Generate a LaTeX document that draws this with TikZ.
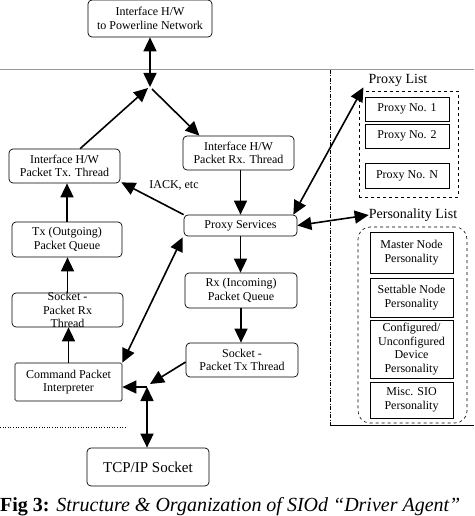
\documentclass[tikz,border=0pt]{standalone}
\usepackage{fontspec}
\setmainfont{Liberation Serif}
\usetikzlibrary{arrows.meta,calc}
\begin{document}
\begin{tikzpicture}[x=1pt,y=-1pt,
 box/.style={draw, rounded corners=4pt, line width=0.7pt, align=center, inner sep=0pt,
   font=\fontsize{12}{13.5}\selectfont},
 sq/.style={draw, line width=0.7pt, align=center, inner sep=0pt,
   font=\fontsize{12}{13.5}\selectfont},
 lbl/.style={inner sep=0pt, align=center, font=\fontsize{12}{13.5}\selectfont},
 arr/.style={line width=1.6pt, -{Triangle[length=14pt,width=13pt]}},
 darr/.style={line width=1.6pt, {Triangle[length=14pt,width=13pt]}-{Triangle[length=14pt,width=13pt]}},
]
\useasboundingbox (0,0) rectangle (474,516);

% separator lines
\draw[gray!80, line width=1pt] (0,70) -- (474,70);
\draw[line width=0.6pt, dash pattern=on 4pt off 1.5pt on 1pt off 1.5pt] (330,70) -- (330,425);
\draw[line width=0.8pt] (330,425) -- (474,425);
\draw[line width=0.6pt, dotted] (0,427) -- (125,427);

% left / middle nodes
\node[box, minimum width=124pt, minimum height=37pt] (top) at (150,18.5) {Interface H/W\\to Powerline Network};
\node[box, minimum width=111pt, minimum height=34pt] (tx) at (64.5,166) {Interface H/W\\Packet Tx. Thread};
\node[box, minimum width=111pt, minimum height=34pt] (rx) at (238.5,153) {Interface H/W\\Packet Rx. Thread};
\node[box, minimum width=113pt, minimum height=21pt] (proxy) at (240.5,225.5) {Proxy Services};
\node[box, minimum width=110pt, minimum height=35pt] (txq) at (67,239.5) {Tx (Outgoing)\\Packet Queue};
\node[box, minimum width=111pt, minimum height=34pt, inner ysep=-3pt] (srx) at (67.5,310) {Socket -\\Packet Rx\\Thread};
\node[sq, rounded corners=1.5pt, minimum width=107pt, minimum height=38pt] (cmd) at (68.5,382) {Command Packet\\Interpreter};
\node[box, minimum width=112pt, minimum height=35pt] (rxq) at (241,290.5) {Rx (Incoming)\\Packet Queue};
\node[box, minimum width=112pt, minimum height=34pt] (stx) at (242,360) {Socket -\\Packet Tx Thread};
\node[box, minimum width=122pt, minimum height=38pt, font=\fontsize{15}{17}\selectfont] (tcp) at (148,467) {TCP/IP Socket};
\node[lbl] (iack) at (174,185) {IACK, etc};

% right panel
\node[lbl, font=\fontsize{14}{16}\selectfont] (plist) at (398,80) {Proxy List};
\node[draw, dashed, line width=0.8pt, minimum width=99pt, minimum height=106pt, inner sep=0pt] (pbox) at (408.5,144) {};
\node[sq, minimum width=84pt, minimum height=24pt] (p1) at (407,109) {Proxy No. 1};
\node[sq, minimum width=84pt, minimum height=24pt] (p2) at (407,136) {Proxy No. 2};
\node[sq, minimum width=84pt, minimum height=25pt] (pn) at (407,175.5) {Proxy No. N};

\node[lbl, font=\fontsize{14}{16}\selectfont] (perslist) at (413,215) {Personality List};
\node[draw, dashed, rounded corners=12pt, line width=0.6pt, minimum width=109pt, minimum height=196pt, inner sep=0pt] (perbox) at (412.5,325) {};
\node[sq, minimum width=83pt, minimum height=41pt] (m1) at (411.5,252.5) {Master Node\\Personality};
\node[sq, minimum width=83pt, minimum height=39pt] (m2) at (411.5,297.5) {Settable Node\\Personality};
\node[sq, minimum width=83pt, minimum height=58pt] (m3) at (411.5,349) {Configured/\\Unconfigured\\Device\\Personality};
\node[sq, minimum width=83pt, minimum height=36pt] (m4) at (411.5,400) {Misc. SIO\\Personality};

% junctions
\coordinate (J1) at (150,87);
\coordinate (J2) at (147,387);

% connectors
\draw[darr] (top.south) -- (J1);
\draw[arr] ($(tx.north west)!0.64!(tx.north east)$) -- ($(J1)+(-2,1)$);
\draw[arr] ($(J1)+(2,2)$) -- ($(rx.north west)!0.15!(rx.north east)$);
\draw[arr] (rx.south -| proxy.north) -- (proxy.north);
\draw[arr] (proxy.north west) -- ($(tx.south east)+(1,-1)$);
\draw[darr] ($(proxy.north east)+(-4,0)$) -- ($(plist.south west)+(-5,1)$);
\draw[darr] (proxy.east) -- (perslist.west);
\draw[darr] ($(proxy.south west)+(-1,1)$) -- (cmd.north east);
\draw[arr] (txq.north) -- (txq.north |- tx.south);
\draw[arr] (srx.north) -- (srx.north |- txq.south);
\draw[arr] (cmd.north) -- (cmd.north |- srx.south);
\draw[arr] (proxy.south) -- (proxy.south |- rxq.north);
\draw[arr] (rxq.south) -- (rxq.south |- stx.north);
\draw[arr] ($(stx.west)+(0,2)$) -- ($(J2)+(3,-3)$);
\draw[arr] (J2) -- (J2 -| cmd.east);
\draw[darr] (J2) -- (J2 |- tcp.north);

% caption
\node[anchor=base west, inner sep=0pt, font=\fontsize{20}{22}\selectfont] (cap) at (0,511)
  {\textbf{Fig 3:} \textit{Structure \& Organization of SIOd ``Driver Agent''}};
\end{tikzpicture}
\end{document}
